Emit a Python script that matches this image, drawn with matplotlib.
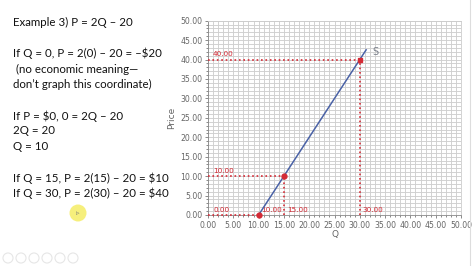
import matplotlib
matplotlib.use("Agg")
import matplotlib.pyplot as plt
from matplotlib.patches import Ellipse
from matplotlib.ticker import MultipleLocator, FormatStrFormatter

# supply line and marked points
line_q = [10, 31.25]
line_p = [0, 42.5]
point_q = [10, 15, 30]
point_p = [0, 10, 40]
q_labels = ["10.00", "15.00", "30.00"]
p_labels = ["0.00", "10.00", "40.00"]

notes = [
    "Example 3) P = 2Q \u2013 20",
    "If Q = 0, P = 2(0) \u2013 20 = \u2013$20",
    " (no economic meaning\u2014",
    "don\u2019t graph this coordinate)",
    "If P = $0, 0 = 2Q \u2013 20",
    "2Q = 20",
    "Q = 10",
    "If Q = 15, P = 2(15) \u2013 20 = $10",
    "If Q = 30, P = 2(30) \u2013 20 = $40",
]
note_y = [22, 53, 69, 84, 116, 131, 146, 178, 193]

W, H = 474, 266
red = "#d42a35"

fig = plt.figure(figsize=(W / 100, H / 100), dpi=100)
fig.patch.set_facecolor("white")

for txt, y in zip(notes, note_y):
    fig.text(13 / W, 1 - y / H, txt, fontsize=8.3, family="Lato",
             color="#111111", va="center", ha="left")

# cursor highlight
fig.patches.append(Ellipse((78 / W, 1 - 213 / H), 17 / W, 17 / H,
                           transform=fig.transFigure,
                           facecolor="#f6ee6e", edgecolor="none", alpha=0.9))
fig.text(78 / W, 1 - 213 / H, "\u25b9", fontsize=5, color="#777777",
         ha="center", va="center")

# faint toolbar icons bottom-left
for i in range(6):
    fig.patches.append(Ellipse(((8 + i * 13) / W, 1 - 258 / H), 10 / W, 10 / H,
                               transform=fig.transFigure, facecolor="none",
                               edgecolor="#e6e6e6", lw=0.8))

# window border on the right
fig.add_artist(plt.Line2D([470 / W, 470 / W], [0, 1], transform=fig.transFigure,
                          color="#dddddd", lw=0.8))

ax = fig.add_axes([208 / W, 1 - 215 / H, 253 / W, 194.3 / H])
ax.set_xlim(0, 50)
ax.set_ylim(0, 50)
ax.xaxis.set_major_locator(MultipleLocator(5))
ax.yaxis.set_major_locator(MultipleLocator(5))
ax.xaxis.set_minor_locator(MultipleLocator(1))
ax.yaxis.set_minor_locator(MultipleLocator(1))
ax.xaxis.set_major_formatter(FormatStrFormatter("%.2f"))
ax.yaxis.set_major_formatter(FormatStrFormatter("%.2f"))
ax.grid(True, which="both", color="#cfcfcf", lw=0.65)
ax.set_axisbelow(True)
ax.tick_params(which="both", labelsize=5.6, colors="#777777", length=2.5,
               width=0.6, pad=1.5, labelcolor="#666666")
ax.tick_params(which="minor", length=1.5)
for s in ax.spines.values():
    s.set_color("#cccccc")
    s.set_linewidth(0.6)
ax.spines["left"].set_color("#888888")
ax.spines["bottom"].set_color("#888888")

ax.set_xlabel("Q", fontsize=6.5, color="#666666", labelpad=0)
ax.set_ylabel("Price", fontsize=6.5, color="#666666", labelpad=3)

# dotted guide lines
for q, p in zip(point_q, point_p):
    ax.plot([0, q], [p, p], ls=":", color=red, lw=1.2, clip_on=False, zorder=3)
    ax.plot([q, q], [0, p], ls=":", color=red, lw=1.2, clip_on=False, zorder=3)

ax.plot(line_q, line_p, color="#4a62a6", lw=1.1, zorder=4)
ax.text(line_q[1] + 1.3, line_p[1] - 0.5, "S", fontsize=7, color="#7a7f8a",
        va="center", ha="left")

ax.plot(point_q[:2], point_p[:2], "o", color=red, ms=3.5, zorder=5, clip_on=False)
ax.plot(point_q[2:], point_p[2:], "s", color=red, ms=3, zorder=5)

for p, lab in zip(point_p, p_labels):
    ax.text(1.0, p + 0.6, lab, fontsize=5.2, color=red, va="bottom", ha="left")
for q, lab in zip(point_q, q_labels):
    ax.text(q + 0.6, 0.6, lab, fontsize=5.2, color=red, va="bottom", ha="left")

fig.savefig("out.png", dpi=100, facecolor="white")
